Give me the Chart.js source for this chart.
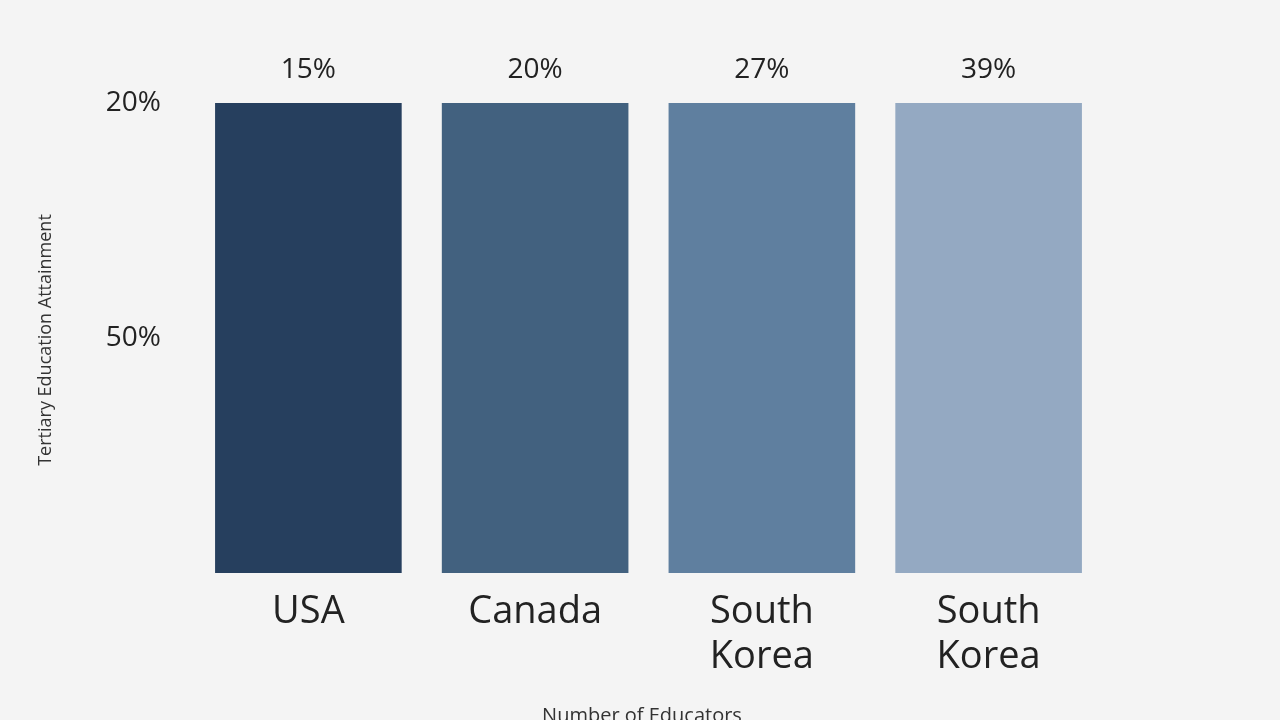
<!DOCTYPE html>
<html>
<head>
<meta charset="utf-8">
<script src="https://cdn.jsdelivr.net/npm/chart.js@4"></script>
<style>
  body { margin: 0; background: #f4f4f4; }
  canvas { display: block; }
</style>
</head>
<body>
<canvas id="grafico" width="1280" height="720"></canvas>
<script>
// data (bars are drawn at equal height in the reference)
const countries = [["USA"], ["Canada"], ["South", "Korea"], ["South", "Korea"]];
const barHeights = [100, 100, 100, 100];
const valueLabels = ["15%", "20%", "27%", "39%"];
const tickPositions = [50, 100];
const tickLabels = ["50%", "20%"];
const barColors = ["#263f5e", "#42617f", "#5f7f9f", "#94a9c2"];
const yTitle = "Tertiary Education Attainment";
const xTitle = "Number of Educators";

const FONT = "'Open Sans', 'Noto Sans', sans-serif";

const extras = {
  id: "extras",
  afterDatasetsDraw(chart) {
    const ctx = chart.ctx;
    const meta = chart.getDatasetMeta(0);
    ctx.save();
    ctx.fillStyle = "#222";
    ctx.font = "28px " + FONT;
    ctx.textAlign = "center";
    ctx.textBaseline = "middle";
    meta.data.forEach((bar, i) => {
      ctx.fillText(valueLabels[i], bar.x, 70);
    });
    // y title
    ctx.font = "18px " + FONT;
    ctx.fillStyle = "#333";
    ctx.translate(46, 340);
    ctx.rotate(-Math.PI / 2);
    ctx.fillText(yTitle, 0, 0);
    ctx.restore();
    ctx.save();
    ctx.font = "20px " + FONT;
    ctx.fillStyle = "#333";
    ctx.textAlign = "center";
    ctx.textBaseline = "middle";
    ctx.fillText(xTitle, 642, 716);
    ctx.restore();
  }
};

const bg = {
  id: "bg",
  beforeDraw(chart) {
    chart.ctx.save();
    chart.ctx.fillStyle = "#f4f4f4";
    chart.ctx.fillRect(0, 0, chart.width, chart.height);
    chart.ctx.restore();
  }
};

new Chart(document.getElementById("grafico").getContext("2d"), {
  type: "bar",
  data: {
    labels: countries,
    datasets: [{ data: barHeights, backgroundColor: barColors, barPercentage: 0.823, categoryPercentage: 1 }]
  },
  options: {
    responsive: false,
    animation: false,
    layout: { padding: { top: 103, right: 178, left: 0, bottom: 0 } },
    plugins: { legend: { display: false }, tooltip: { enabled: false } },
    scales: {
      x: {
        grid: { display: false },
        border: { display: false },
        ticks: { color: "#222", font: { size: 38, family: FONT }, padding: 8 },
        afterFit(s) { s.height = 720 - 573; }
      },
      y: {
        min: 0, max: 100,
        grid: { display: false },
        border: { display: false },
        afterBuildTicks(s) { s.ticks = tickPositions.map(v => ({ value: v })); },
        ticks: {
          color: "#222", font: { size: 28, family: FONT }, padding: 26,
          callback: (v) => tickLabels[tickPositions.indexOf(v)]
        },
        afterFit(s) { s.width = 195; }
      }
    }
  },
  plugins: [bg, extras]
});
</script>
</body>
</html>
